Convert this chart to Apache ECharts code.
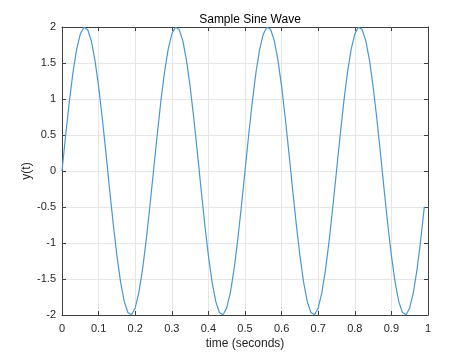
<!DOCTYPE html>
<html>
<head>
<meta charset="utf-8">
<script src="https://cdn.jsdelivr.net/npm/echarts@6/dist/echarts.min.js"></script>
<style>html,body{margin:0;padding:0;background:#fff;}#c{width:474px;height:355px;}</style>
</head>
<body>
<div id="c"></div>
<script>
const title = 'Sample Sine Wave';
const xName = 'time (seconds)';
const yName = 'y(t)';
// time samples (s)
const t = [0,0.01,0.02,0.03,0.04,0.05,0.06,0.07,0.08,0.09,
0.10,0.11,0.12,0.13,0.14,0.15,0.16,0.17,0.18,0.19,
0.20,0.21,0.22,0.23,0.24,0.25,0.26,0.27,0.28,0.29,
0.30,0.31,0.32,0.33,0.34,0.35,0.36,0.37,0.38,0.39,
0.40,0.41,0.42,0.43,0.44,0.45,0.46,0.47,0.48,0.49,
0.50,0.51,0.52,0.53,0.54,0.55,0.56,0.57,0.58,0.59,
0.60,0.61,0.62,0.63,0.64,0.65,0.66,0.67,0.68,0.69,
0.70,0.71,0.72,0.73,0.74,0.75,0.76,0.77,0.78,0.79,
0.80,0.81,0.82,0.83,0.84,0.85,0.86,0.87,0.88,0.89,
0.90,0.91,0.92,0.93,0.94,0.95,0.96,0.97,0.98,0.99];
// y(t) values read from the wave
const y = [0,0.497,0.964,1.369,1.689,1.902,1.996,1.965,1.810,1.541,
1.176,0.736,0.251,-0.251,-0.736,-1.176,-1.541,-1.810,-1.965,-1.996,
-1.902,-1.689,-1.369,-0.964,-0.497,
0,0.497,0.964,1.369,1.689,1.902,1.996,1.965,1.810,1.541,
1.176,0.736,0.251,-0.251,-0.736,-1.176,-1.541,-1.810,-1.965,-1.996,
-1.902,-1.689,-1.369,-0.964,-0.497,
0,0.497,0.964,1.369,1.689,1.902,1.996,1.965,1.810,1.541,
1.176,0.736,0.251,-0.251,-0.736,-1.176,-1.541,-1.810,-1.965,-1.996,
-1.902,-1.689,-1.369,-0.964,-0.497,
0,0.497,0.964,1.369,1.689,1.902,1.996,1.965,1.810,1.541,
1.176,0.736,0.251,-0.251,-0.736,-1.176,-1.541,-1.810,-1.965,-1.996,
-1.902,-1.689,-1.369,-0.964,-0.497];

const font = 'Liberation Sans, Arial, Helvetica, sans-serif';
const axisCol = '#404040';
const txtCol = '#262626';
const data = t.map((v, i) => [v, y[i]]);

const chart = echarts.init(document.getElementById('c'), null, {renderer: 'canvas'});
const baseAxis = {
  axisLine: {show: true, onZero: false, lineStyle: {color: axisCol, width: 1}},
  axisTick: {show: true, inside: true, length: 4, lineStyle: {color: axisCol}},
};
chart.setOption({
  animation: false,
  backgroundColor: '#fff',
  title: {
    text: title, left: 245, top: 9, textAlign: 'center',
    textStyle: {fontFamily: font, fontSize: 12, fontWeight: 'normal', color: '#000'}
  },
  grid: {left: 62, right: 46, top: 27, bottom: 40, containLabel: false},
  xAxis: [
    Object.assign({}, baseAxis, {
      type: 'value', min: 0, max: 1, interval: 0.1, position: 'bottom',
      name: xName, nameLocation: 'middle', nameGap: 23, nameMoveOverlap: false,
      nameTextStyle: {fontFamily: font, fontSize: 12, color: txtCol},
      axisLabel: {fontFamily: font, fontSize: 11, color: txtCol, margin: 8,
        formatter: v => String(Math.round(v * 10) / 10)},
      splitLine: {show: true, lineStyle: {color: '#e6e6e6', width: 1}}
    }),
    Object.assign({}, baseAxis, {
      type: 'value', min: 0, max: 1, interval: 0.1, position: 'top',
      axisLabel: {show: false}, splitLine: {show: false}
    })
  ],
  yAxis: [
    Object.assign({}, baseAxis, {
      type: 'value', min: -2, max: 2, interval: 0.5, position: 'left',
      name: yName, nameLocation: 'middle', nameGap: 29, nameMoveOverlap: false,
      nameTextStyle: {fontFamily: font, fontSize: 12, color: txtCol},
      axisLabel: {fontFamily: font, fontSize: 11, color: txtCol, margin: 6},
      splitLine: {show: true, lineStyle: {color: '#e6e6e6', width: 1}}
    }),
    Object.assign({}, baseAxis, {
      type: 'value', min: -2, max: 2, interval: 0.5, position: 'right',
      axisLabel: {show: false}, splitLine: {show: false}
    })
  ],
  series: [{
    type: 'line', data: data, xAxisIndex: 0, yAxisIndex: 0,
    showSymbol: false, smooth: false,
    lineStyle: {color: '#4a98cf', width: 1.2}
  }]
});
</script>
</body>
</html>
